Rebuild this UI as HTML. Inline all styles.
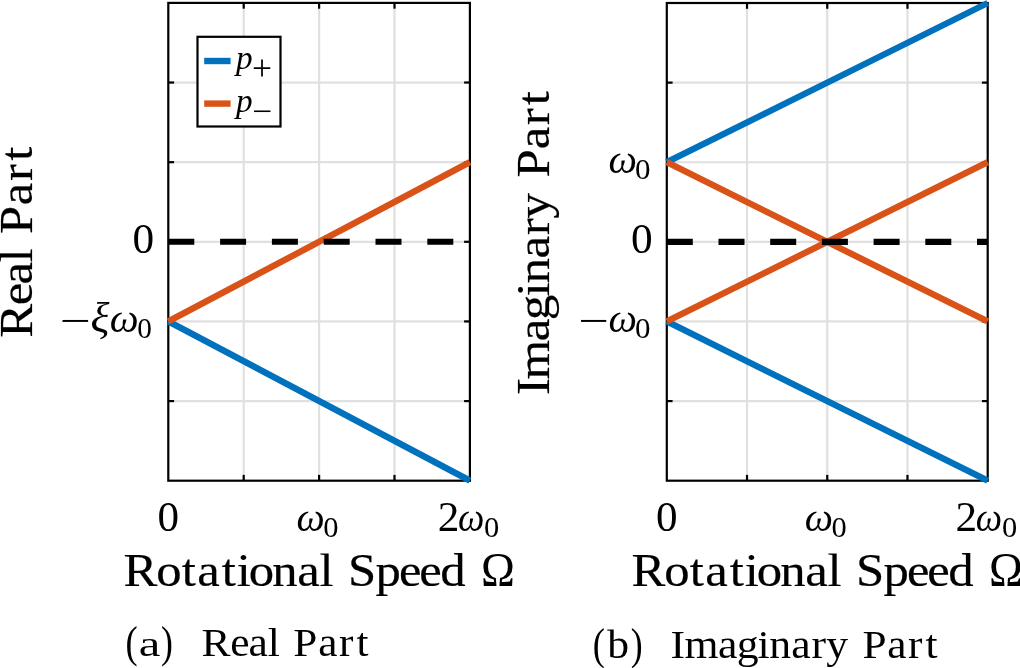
<!DOCTYPE html>
<html><head><meta charset="utf-8"><title>Real and Imaginary Part</title>
<style>
html,body{margin:0;padding:0;background:#fff;}
body{width:1020px;height:668px;overflow:hidden;}
svg{display:block;}
text{font-family:"Liberation Serif", serif;fill:#000;white-space:pre;}
text.w{stroke:#000;stroke-width:0.2px;}
</style></head><body>
<svg width="1020" height="668" viewBox="0 0 1020 668">
<rect width="1020" height="668" fill="#fff"/>
<g>
<rect x="168.3" y="2.9" width="301.60" height="477.80" fill="#fff"/>
<line x1="243.70" y1="2.9" x2="243.70" y2="480.7" stroke="#e0e0e0" stroke-width="2.2"/>
<line x1="319.10" y1="2.9" x2="319.10" y2="480.7" stroke="#e0e0e0" stroke-width="2.2"/>
<line x1="394.50" y1="2.9" x2="394.50" y2="480.7" stroke="#e0e0e0" stroke-width="2.2"/>
<line x1="168.3" y1="82.53" x2="469.9" y2="82.53" stroke="#e0e0e0" stroke-width="2.2"/>
<line x1="168.3" y1="162.17" x2="469.9" y2="162.17" stroke="#e0e0e0" stroke-width="2.2"/>
<line x1="168.3" y1="241.80" x2="469.9" y2="241.80" stroke="#e0e0e0" stroke-width="2.2"/>
<line x1="168.3" y1="321.43" x2="469.9" y2="321.43" stroke="#e0e0e0" stroke-width="2.2"/>
<line x1="168.3" y1="401.07" x2="469.9" y2="401.07" stroke="#e0e0e0" stroke-width="2.2"/>
<rect x="666.8" y="3.0" width="320.90" height="477.70" fill="#fff"/>
<line x1="747.02" y1="3.0" x2="747.02" y2="480.7" stroke="#e0e0e0" stroke-width="2.2"/>
<line x1="827.25" y1="3.0" x2="827.25" y2="480.7" stroke="#e0e0e0" stroke-width="2.2"/>
<line x1="907.48" y1="3.0" x2="907.48" y2="480.7" stroke="#e0e0e0" stroke-width="2.2"/>
<line x1="666.8" y1="82.62" x2="987.7" y2="82.62" stroke="#e0e0e0" stroke-width="2.2"/>
<line x1="666.8" y1="162.23" x2="987.7" y2="162.23" stroke="#e0e0e0" stroke-width="2.2"/>
<line x1="666.8" y1="241.85" x2="987.7" y2="241.85" stroke="#e0e0e0" stroke-width="2.2"/>
<line x1="666.8" y1="321.47" x2="987.7" y2="321.47" stroke="#e0e0e0" stroke-width="2.2"/>
<line x1="666.8" y1="401.08" x2="987.7" y2="401.08" stroke="#e0e0e0" stroke-width="2.2"/>
<line x1="243.70" y1="2.9" x2="243.70" y2="8.7" stroke="#000" stroke-width="2.2"/>
<line x1="243.70" y1="480.7" x2="243.70" y2="474.9" stroke="#000" stroke-width="2.2"/>
<line x1="319.10" y1="2.9" x2="319.10" y2="8.7" stroke="#000" stroke-width="2.2"/>
<line x1="319.10" y1="480.7" x2="319.10" y2="474.9" stroke="#000" stroke-width="2.2"/>
<line x1="394.50" y1="2.9" x2="394.50" y2="8.7" stroke="#000" stroke-width="2.2"/>
<line x1="394.50" y1="480.7" x2="394.50" y2="474.9" stroke="#000" stroke-width="2.2"/>
<line x1="168.3" y1="82.53" x2="174.10000000000002" y2="82.53" stroke="#000" stroke-width="2.2"/>
<line x1="469.9" y1="82.53" x2="464.09999999999997" y2="82.53" stroke="#000" stroke-width="2.2"/>
<line x1="168.3" y1="162.17" x2="174.10000000000002" y2="162.17" stroke="#000" stroke-width="2.2"/>
<line x1="469.9" y1="162.17" x2="464.09999999999997" y2="162.17" stroke="#000" stroke-width="2.2"/>
<line x1="168.3" y1="241.80" x2="174.10000000000002" y2="241.80" stroke="#000" stroke-width="2.2"/>
<line x1="469.9" y1="241.80" x2="464.09999999999997" y2="241.80" stroke="#000" stroke-width="2.2"/>
<line x1="168.3" y1="321.43" x2="174.10000000000002" y2="321.43" stroke="#000" stroke-width="2.2"/>
<line x1="469.9" y1="321.43" x2="464.09999999999997" y2="321.43" stroke="#000" stroke-width="2.2"/>
<line x1="168.3" y1="401.07" x2="174.10000000000002" y2="401.07" stroke="#000" stroke-width="2.2"/>
<line x1="469.9" y1="401.07" x2="464.09999999999997" y2="401.07" stroke="#000" stroke-width="2.2"/>
<rect x="168.3" y="2.9" width="301.60" height="477.80" fill="none" stroke="#000" stroke-width="2.2"/>
<line x1="747.02" y1="3.0" x2="747.02" y2="8.8" stroke="#000" stroke-width="2.2"/>
<line x1="747.02" y1="480.7" x2="747.02" y2="474.9" stroke="#000" stroke-width="2.2"/>
<line x1="827.25" y1="3.0" x2="827.25" y2="8.8" stroke="#000" stroke-width="2.2"/>
<line x1="827.25" y1="480.7" x2="827.25" y2="474.9" stroke="#000" stroke-width="2.2"/>
<line x1="907.48" y1="3.0" x2="907.48" y2="8.8" stroke="#000" stroke-width="2.2"/>
<line x1="907.48" y1="480.7" x2="907.48" y2="474.9" stroke="#000" stroke-width="2.2"/>
<line x1="666.8" y1="82.62" x2="672.5999999999999" y2="82.62" stroke="#000" stroke-width="2.2"/>
<line x1="987.7" y1="82.62" x2="981.9000000000001" y2="82.62" stroke="#000" stroke-width="2.2"/>
<line x1="666.8" y1="162.23" x2="672.5999999999999" y2="162.23" stroke="#000" stroke-width="2.2"/>
<line x1="987.7" y1="162.23" x2="981.9000000000001" y2="162.23" stroke="#000" stroke-width="2.2"/>
<line x1="666.8" y1="241.85" x2="672.5999999999999" y2="241.85" stroke="#000" stroke-width="2.2"/>
<line x1="987.7" y1="241.85" x2="981.9000000000001" y2="241.85" stroke="#000" stroke-width="2.2"/>
<line x1="666.8" y1="321.47" x2="672.5999999999999" y2="321.47" stroke="#000" stroke-width="2.2"/>
<line x1="987.7" y1="321.47" x2="981.9000000000001" y2="321.47" stroke="#000" stroke-width="2.2"/>
<line x1="666.8" y1="401.08" x2="672.5999999999999" y2="401.08" stroke="#000" stroke-width="2.2"/>
<line x1="987.7" y1="401.08" x2="981.9000000000001" y2="401.08" stroke="#000" stroke-width="2.2"/>
<rect x="666.8" y="3.0" width="320.90" height="477.70" fill="none" stroke="#000" stroke-width="2.2"/>
<line x1="168.30" y1="321.43" x2="469.90" y2="480.70" stroke="#0072BD" stroke-width="6.4" />
<line x1="168.30" y1="321.43" x2="469.90" y2="162.17" stroke="#D95319" stroke-width="6.4" />
<line x1="168.30" y1="241.80" x2="469.90" y2="241.80" stroke="#000" stroke-width="6.1" stroke-dasharray="26 25.8"/>
<line x1="666.80" y1="162.23" x2="987.70" y2="3.00" stroke="#0072BD" stroke-width="6.4" />
<line x1="666.80" y1="321.47" x2="987.70" y2="480.70" stroke="#0072BD" stroke-width="6.4" />
<line x1="666.80" y1="162.23" x2="987.70" y2="321.47" stroke="#D95319" stroke-width="6.4" />
<line x1="666.80" y1="321.47" x2="987.70" y2="162.23" stroke="#D95319" stroke-width="6.4" />
<line x1="666.80" y1="241.85" x2="987.70" y2="241.85" stroke="#000" stroke-width="6.1" stroke-dasharray="26 25.7"/>
<rect x="197.5" y="36.8" width="83" height="89.7" fill="#fff" stroke="#000" stroke-width="2.2"/>
<line x1="204.20" y1="61.00" x2="230.60" y2="61.00" stroke="#0072BD" stroke-width="6.4" />
<line x1="204.20" y1="103.60" x2="230.60" y2="103.60" stroke="#D95319" stroke-width="6.4" />
</g>
<g>
<text transform="translate(235.99,69.36) scale(0.9904,1)" font-size="33.53" font-style="italic">p</text>
<text transform="translate(251.93,80.27) scale(0.9953,1)" font-size="35.65">+</text>
<text transform="translate(235.99,111.76) scale(0.9904,1)" font-size="33.53" font-style="italic">p</text>
<text transform="translate(251.93,121.56) scale(1.1089,1)" font-size="32.00">−</text>
<text transform="translate(31.60,336.20) rotate(-90) scale(1.0800,1)" x="-1.36 28.75 47.79 68.23" font-size="47.08" class="w">Real</text>
<text transform="translate(31.60,232.60) rotate(-90) scale(1.0800,1)" x="-1.35 25.34 47.86 66.55" font-size="46.72" class="w">Part</text>
<text transform="translate(549.20,393.20) rotate(-90) scale(1.0800,1)" x="-1.71 12.66 48.05 67.58 89.62 101.68 124.77 146.29 161.66" font-size="47.23" class="w">Imaginary</text>
<text transform="translate(549.20,176.10) rotate(-90) scale(1.0800,1)" x="-1.35 24.95 47.16 65.59" font-size="46.87" class="w">Part</text>
<text transform="translate(132.57,252.68) scale(1.0263,1)" font-size="42.22">0</text>
<text transform="translate(59.85,333.80) scale(1.3763,1)" font-size="40.00">−</text>
<text transform="translate(90.46,331.60) scale(1.0426,1)" font-size="42.30" font-style="italic">ξ</text>
<text transform="translate(109.87,332.20) scale(1.0240,1)" font-size="40.00" font-style="italic">ω</text>
<text transform="translate(137.23,338.20) scale(0.9884,1)" font-size="29.63">0</text>
<text transform="translate(608.39,172.50) scale(1.0080,1)" font-size="40.00" font-style="italic">ω</text>
<text transform="translate(634.96,178.90) scale(1.0394,1)" font-size="29.78">0</text>
<text transform="translate(630.97,252.67) scale(1.0192,1)" font-size="42.52">0</text>
<text transform="translate(578.18,334.40) scale(1.3602,1)" font-size="40.00">−</text>
<text transform="translate(608.39,332.00) scale(1.0133,1)" font-size="39.79" font-style="italic">ω</text>
<text transform="translate(634.96,338.30) scale(1.0343,1)" font-size="29.93">0</text>
<text transform="translate(157.48,530.98) scale(1.0352,1)" font-size="41.63">0</text>
<text transform="translate(296.50,530.50) scale(0.9948,1)" font-size="40.21" font-style="italic">ω</text>
<text transform="translate(323.28,536.80) scale(1.0235,1)" font-size="29.78">0</text>
<text transform="translate(437.75,530.70) scale(1.0418,1)" font-size="41.52">2</text>
<text transform="translate(457.90,530.50) scale(0.9271,1)" font-size="40.21" font-style="italic">ω</text>
<text transform="translate(484.08,536.80) scale(1.0235,1)" font-size="29.78">0</text>
<text transform="translate(655.98,530.98) scale(1.0352,1)" font-size="41.63">0</text>
<text transform="translate(804.65,530.50) scale(0.9948,1)" font-size="40.21" font-style="italic">ω</text>
<text transform="translate(831.43,536.80) scale(1.0235,1)" font-size="29.78">0</text>
<text transform="translate(955.55,530.70) scale(1.0418,1)" font-size="41.52">2</text>
<text transform="translate(975.70,530.50) scale(0.9271,1)" font-size="40.21" font-style="italic">ω</text>
<text transform="translate(1001.88,536.80) scale(1.0235,1)" font-size="29.78">0</text>
<text transform="translate(125.00,586.30) scale(1.0800,1)" x="-1.35 28.96 52.60 66.81 89.63 103.58 114.62 136.43 159.43 180.03" font-size="46.92" class="w">Rotational</text>
<text transform="translate(351.30,586.30) scale(1.0800,1)" x="-3.14 22.37 44.21 63.00 82.39" font-size="46.92" class="w">Speed</text>
<text transform="translate(481.02,586.30) scale(0.9499,1)" font-size="48.03">Ω</text>
<text transform="translate(633.00,586.30) scale(1.0800,1)" x="-1.35 28.96 52.60 66.81 89.63 103.58 114.62 136.43 159.43 180.03" font-size="46.92" class="w">Rotational</text>
<text transform="translate(859.30,586.30) scale(1.0800,1)" x="-3.14 22.37 44.21 63.00 82.39" font-size="46.92" class="w">Speed</text>
<text transform="translate(989.02,586.30) scale(0.9499,1)" font-size="48.03">Ω</text>
<text transform="translate(125.46,656.78) scale(0.8310,1)" font-size="43.89">(</text>
<text transform="translate(138.70,656.04) scale(1.3662,1)" font-size="35.58">a</text>
<text transform="translate(160.93,656.78) scale(0.8150,1)" font-size="43.89">)</text>
<text transform="translate(202.80,656.00) scale(1.0800,1)" x="-1.16 25.36 42.26 60.26" font-size="40.31">Real</text>
<text transform="translate(294.60,656.00) scale(1.0800,1)" x="-1.15 21.81 41.18 57.27" font-size="40.00">Part</text>
<text transform="translate(592.76,658.96) scale(0.8289,1)" font-size="44.00">(</text>
<text transform="translate(607.20,658.30) scale(1.1004,1)" font-size="39.71">b</text>
<text transform="translate(630.73,658.96) scale(0.8129,1)" font-size="44.00">)</text>
<text transform="translate(672.10,658.30) scale(1.0800,1)" x="-1.46 11.49 42.52 59.79 79.09 89.87 110.22 129.14 142.80" font-size="40.46">Imaginary</text>
<text transform="translate(863.80,658.30) scale(1.0800,1)" x="-1.16 21.72 41.02 57.04" font-size="40.15">Part</text>
</g>
</svg>
</body></html>
